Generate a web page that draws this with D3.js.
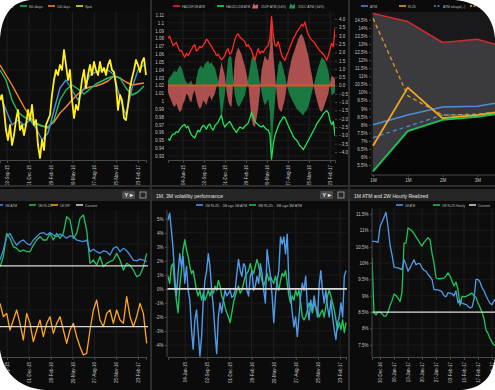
<!DOCTYPE html>
<html>
<head>
<meta charset="utf-8">
<script src="https://cdn.jsdelivr.net/npm/d3@7"></script>
<style>
  body { margin: 0; background: #fff; }
  svg { display: block; font-family: "Liberation Sans", Arial, sans-serif; }
</style>
</head>
<body>
<svg id="dash" width="495" height="390"></svg>
<script>
var parse = d3.timeParse("%d-%b-%y");
var fmt = d3.timeFormat("%d-%b-%y");

// ---------------- data ----------------
var qTicks = ["04-Jun-15","02-Sep-15","01-Dec-15","29-Feb-16","29-May-16","27-Aug-16","25-Nov-16","23-Feb-17"];

// panel 1 : spot and moving averages
var p1Range = ["04-Aug-15", "28-Mar-17"];
var p1Spot = [70,75,60,40,30,45,25,35,50,60,40,45,35,45,60,50,65,45,50,25,12,30,20,45,50,55,75,90,100,95,105,100,120,105,90,100,70,52,65,60,75,90,100,82,95,105,95,108,100,95,108,98,102,95,105,110,100,98,85,60,75,70,52,50,65,82,92,100,110,105,98,108,112,95];
var p1Ma30 = [75,60,45,50,45,50,42,30,37,60,82,90,80,70,82,95,98,100,100,95,72,55,82,100,105];
var p1Ma60 = [100,90,70,58,53,50,47,44,42,50,70,80,85,81,76,81,86,89,92,94,92,82,75,78,84];
var p1Ma100 = [105,95,85,74,63,53,46,44,43,48,57,63,70,76,81,83,84,86,89,94,92,88,85,86,87];

// panel 2 : skew ratios and 1d changes
var p2Range = ["01-Apr-15", "16-Mar-17"];
var p2RatioDF = [1.080,1.083,1.077,1.071,1.073,1.075,1.069,1.064,1.065,1.060,
  1.056,1.061,1.058,1.062,1.066,1.070,1.072,1.064,1.066,1.070,
  1.068,1.071,1.074,1.079,1.077,1.073,1.070,1.066,1.063,1.058,
  1.060,1.056,1.053,1.055,1.058,1.064,1.067,1.060,1.062,1.070,
  1.078,1.084,1.086,1.082,1.080,1.078,1.076,1.070,1.072,1.068,
  1.065,1.058,1.052,1.060,1.067,1.061,1.064,1.062,1.066,1.069,
  1.071,1.080,1.108,1.085,1.072,1.070,1.076,1.068,1.059,1.055,
  1.052,1.058,1.063,1.069,1.074,1.080,1.083,1.088,1.091,1.094,
  1.098,1.096,1.101,1.092,1.085,1.081,1.078,1.076,1.074,1.070,
  1.067,1.064,1.062,1.060,1.057,1.052,1.058,1.066,1.074,1.070,1.093];
var p2RatioDC = [0.952,0.950,0.955,0.958,0.958,0.961,0.960,0.964,0.967,0.969,
  0.970,0.966,0.968,0.962,0.957,0.955,0.953,0.958,0.963,0.961,
  0.966,0.969,0.968,0.964,0.969,0.971,0.966,0.963,0.968,0.971,
  0.973,0.978,0.982,0.972,0.967,0.970,0.972,0.974,0.970,0.966,
  0.963,0.960,0.964,0.967,0.966,0.965,0.968,0.970,0.972,0.978,
  0.986,0.980,0.974,0.972,0.970,0.968,0.967,0.969,0.966,0.964,
  0.963,0.958,0.926,0.945,0.956,0.962,0.968,0.973,0.976,0.980,
  0.979,0.974,0.969,0.964,0.960,0.955,0.952,0.950,0.947,0.943,
  0.941,0.938,0.942,0.946,0.950,0.954,0.958,0.962,0.966,0.971,
  0.974,0.977,0.980,0.984,0.986,0.988,0.985,0.976,0.970,0.974,0.956];
var p2ChgDF = [-0.4,-0.7,-0.9,-1.2,-1.3,-1.1,-1.4,-1.6,-1.5,-1.1,
  -0.9,-0.5,-0.6,-0.9,-1.0,-0.5,-0.3,-0.8,-1.2,-1.4,
  -1.3,-0.9,-1.0,-1.2,-0.8,-0.6,-0.9,-0.7,-0.5,-0.1,
  0.2,0.8,1.4,1.0,0.6,-0.3,-0.9,-1.2,-1.3,0.1,
  1.5,2.0,2.3,2.1,1.9,1.5,1.2,0.7,0.2,-1.0,
  -2.0,-2.4,-2.5,-2.0,-1.4,-0.4,0.9,1.4,1.8,1.6,
  1.5,2.2,4.2,2.0,0.8,-0.4,-1.3,-1.5,-1.6,-1.2,
  -0.8,-0.1,0.6,1.1,1.6,1.9,2.2,2.5,2.8,3.0,
  3.1,2.9,2.6,2.2,1.8,1.2,0.7,0.1,-0.4,-0.8,
  -1.2,-1.5,-1.6,-1.4,-1.1,-0.8,-0.5,0.1,0.6,0.5,0.4];
var p2ChgDC = [0.3,0.5,0.6,0.8,0.9,0.8,1.0,1.2,1.1,0.8,
  0.4,0.2,0.1,0.2,0.3,0.0,-0.2,0.4,0.9,1.1,
  1.2,1.0,1.3,1.4,1.5,1.3,1.4,1.2,1.1,0.7,
  0.3,-1.0,-2.1,-1.3,-0.5,0.6,1.6,1.8,1.7,0.4,
  -0.6,-1.0,-1.3,-1.2,-1.0,-0.8,-0.6,-0.1,0.4,1.0,
  1.6,1.8,1.7,1.3,0.8,0.2,-0.4,-0.9,-1.2,-1.0,
  -0.8,-1.6,-4.3,-2.2,-1.0,0.3,1.2,1.5,1.4,1.0,
  0.6,0.1,-0.3,-0.6,-0.8,-1.0,-1.2,-1.4,-1.5,-1.6,
  -1.7,-1.8,-1.6,-1.5,-1.3,-0.9,-0.5,-0.1,0.3,0.7,
  1.1,1.4,1.7,1.6,1.5,1.2,0.9,0.2,-0.6,-0.5,-0.4];
var p2LeftTicks = [1.11,1.1,1.09,1.08,1.07,1.06,1.05,1.04,1.03,1.02,1.01,1,0.99,0.98,0.97,0.96,0.95,0.94,0.93];
var p2RightTicks = [4,3.5,3,2.5,2,1.5,1,0.5,0,-0.5,-1,-1.5,-2,-2.5,-3,-3.5,-4];

// panel 3 : term structure
var p3Tenors = ["1W","1M","2M","3M","6M"];
var p3Max = [14.9,14.4,13.1,13.3,12.7];
var p3Min = [5.1,7.6,8.3,8.5,8.8];
var p3Atm = [8.0,8.6,9.1,9.15,9.5];
var p3Rlzd = [6.7,10.3,8.4,8.6,8.9];
var p3AtmWk = [7.2,7.9,8.6,8.6,8.9];
var p3RlzdWk = [14.6,9.8,8.6,8.65,8.9];
var p3Ticks = [14.5,14,13.5,13,12.5,12,11.5,11,10.5,10,9.5,9,8.5,8,7.5,7,6.5,6,5.5];

// panel 4 : 1M ATM, RLZD, VRP
var p4Atm = [11.6,12.8,14.4,14.8,14.0,13.4,13.8,14.0,13.6,13.4,14.0,14.4,14.8,14.9,14.6,14.9,14.6,14.4,14.7,14.5,14.2,14.5,14.4,14.0,13.9,13.8,14.0,12.6,12.9,12.6,12.4,12.7,12.6,12.2,13.0,13.2,12.6,13.0,12.7,12.2,11.6,11.5,11.7,11.6,11.4];
var p4Rlzd = [10.8,12.0,14.8,14.2,13.2,13.0,12.6,12.8,12.6,12.6,13.4,14.0,14.4,14.0,14.0,14.8,14.0,14.8,14.2,14.8,16.8,16.4,14.2,14.8,16.6,17.0,15.2,11.2,11.6,11.0,12.0,10.8,11.2,11.4,11.6,12.4,11.6,10.4,11.2,11.0,10.4,9.6,9.8,10.8,12.4];
var p4Vrp = [3.2,1.6,2.0,0.0,1.2,2.4,0.8,-1.2,2.0,0.8,-1.4,0.0,1.2,-0.8,0.8,1.6,-0.4,0.8,1.6,0.0,-1.6,0.0,0.8,-0.8,-2.0,-3.0,-2.8,0.0,2.4,3.6,1.2,0.4,2.0,2.4,0.8,2.4,1.2,0.8,4.0,1.6,0.4,1.6,3.2,2.0,-1.6];
var p4CurVol = 10.9, p4CurVrp = 0.4;

// panel 5 : volatility performance
var p5Range = ["26-Mar-15", "19-Mar-17"];
var p5Perf1M = [4.9,5.4,4.2,2.9,0.9,-0.5,1.1,2.5,1.6,2.3,0.4,1.6,-0.1,-0.8,-2.9,-4.3,-2.2,-1.5,-3.1,-4.8,-3.4,-0.8,0.6,1.3,2.5,1.6,-0.1,-1.3,-3.1,-4.6,-2.0,-1.0,-1.7,-0.8,-0.1,-0.5,-0.3,-0.1,-0.6,-0.5,-0.1,1.1,2.1,1.3,0.9,1.8,1.6,-0.1,-0.5,0.9,1.3,-0.1,0.2,0.9,0.4,1.8,1.1,-0.1,-1.0,2.8,1.8,0.9,-0.5,-2.4,-0.5,0.6,1.3,3.7,3.2,3.7,2.5,3.9,0.4,-0.5,-1.7,-2.7,-2.0,-3.4,-2.0,-0.5,0.4,-0.1,0.9,-1.3,-2.2,-0.8,-1.5,-0.5,-1.3,-2.0,0.2,1.3,-0.1,-1.0,-0.1,-1.3,-2.0,-0.8,-2.0,-2.9,-3.6,-2.4,-2.0,-1.0,-2.0,0.9,1.3];
var p5Perf3M = [0.9,0.4,1.6,1.8,0.2,-0.8,-1.7,0.2,1.3,2.8,3.5,2.8,2.3,1.6,1.1,1.3,0.6,-0.1,-0.5,-0.1,-0.8,-0.3,-0.8,-0.5,-0.1,-0.5,-0.1,-0.3,0.2,-0.1,0.6,0.2,-0.5,-0.8,-1.3,-1.7,-2.0,-2.4,-1.7,-1.0,-0.5,-0.1,0.2,-0.3,-0.1,0.4,0.9,1.1,1.3,1.8,1.3,1.1,1.6,2.1,1.6,1.1,0.6,0.2,0.6,1.1,0.6,0.9,0.6,0.4,0.9,0.4,-0.1,0.6,1.1,0.9,1.3,0.4,-0.5,-1.0,-0.5,-0.8,-0.1,-0.5,-0.1,-1.0,-2.0,-2.2,-2.0,-1.5,-1.0,-1.3,-1.7,-1.0,-1.3,-1.5,-2.0,-1.7,-1.5,-2.0,-1.3,-0.5,-0.1,-0.5,-1.0,-1.5,-2.2,-2.9,-2.4,-2.9,-2.2,-3.1,-2.4];
var p5Ticks = [5,4,3,2,1,0,-1,-2,-3,-4];

// panel 6 : 1M ATM vs 2W hourly realized
var p6Range = ["26-Dec-16", "26-Feb-17"];
var p6Atm = [10.66,10.66,10.65,10.63,11.1,11.25,11.4,11.55,11.12,10.55,10.25,9.88,9.86,9.85,9.83,9.8,10.1,9.95,9.75,9.85,9.98,10.1,9.95,9.98,9.98,9.85,9.78,9.75,9.65,9.58,9.5,9.19,9.19,9.18,9.16,9.12,9.0,8.97,9.09,9.08,9.06,8.99,9.15,8.78,8.88,8.77,8.75,8.73,8.68,8.63,8.65,8.9,9.5,9.5,9.42,9.25,9.15,9.0,8.88,8.77,8.73,8.85,8.93];
var p6Rlzd = [10.15,8.47,8.42,8.5,8.5,8.45,8.38,8.38,8.5,8.7,8.85,9.05,9.0,8.93,8.82,9.1,10.61,10.61,11.07,11.03,10.98,10.9,10.8,10.71,10.6,10.52,10.63,10.7,10.77,10.72,10.3,10.0,9.55,9.52,9.52,9.53,9.54,9.6,9.7,9.6,9.45,9.3,9.42,9.19,8.7,8.98,8.97,8.98,9.01,9.05,9.08,9.0,8.95,8.78,8.65,8.5,8.3,7.95,7.85,7.7,7.58,7.5,7.45];
var p6Current = 8.5;
var p6Ticks = [11.5,11,10.5,10,9.5,9,8.5,8,7.5];
var p6DateTicks = ["30-Dec-16","06-Jan-17","13-Jan-17","20-Jan-17","27-Jan-17","03-Feb-17","10-Feb-17","17-Feb-17","24-Feb-17"];

// ---------------- helpers ----------------
var svg = d3.select("#dash");
svg.append("rect").attr("width", 495).attr("height", 390).attr("fill", "#0b0b0b");

function evenDates(a, b, n) {
  var s = +a, e = +b;
  return d3.range(n).map(function(i) { return new Date(s + i * (e - s) / (n - 1)); });
}

function plotArea(id, x, y, w, h, fill) {
  svg.append("rect").attr("x", x).attr("y", y).attr("width", w).attr("height", h).attr("fill", fill);
  svg.append("clipPath").attr("id", id).append("rect")
    .attr("x", x).attr("y", y).attr("width", w).attr("height", h);
  return svg.append("g").attr("clip-path", "url(#" + id + ")");
}

function drawLine(g, xs, vals, x, y, color, w, dash) {
  g.append("path")
    .datum(vals)
    .attr("d", d3.line().x(function(d, i) { return x(xs[i]); }).y(function(d) { return y(d); }))
    .attr("fill", "none")
    .attr("stroke", color)
    .attr("stroke-width", w)
    .attr("stroke-linejoin", "round")
    .attr("stroke-dasharray", dash || null);
}

function hRule(g, x0, x1, yv, color, w) {
  g.append("line").attr("x1", x0).attr("x2", x1).attr("y1", yv).attr("y2", yv)
    .attr("stroke", color).attr("stroke-width", w);
}

function styleAxis(g) {
  g.attr("font-size", 4.5).attr("font-family", null);
  g.select(".domain").attr("stroke", "#4a4a4a");
  g.selectAll(".tick line").attr("stroke", "#4a4a4a");
  g.selectAll(".tick text").attr("fill", "#c4c4c4");
}

function grid(g, xs, ys, top, bottom, left, right) {
  xs.forEach(function(v) { g.append("line").attr("x1", v).attr("x2", v).attr("y1", top).attr("y2", bottom).attr("stroke", "#1f1f1f"); });
  ys.forEach(function(v) { g.append("line").attr("x1", left).attr("x2", right).attr("y1", v).attr("y2", v).attr("stroke", "#1b1b1b"); });
}

function dateAxis(x, ticks, yAxis) {
  var g = svg.append("g").attr("transform", "translate(0," + yAxis + ")")
    .call(d3.axisBottom(x).tickValues(ticks).tickFormat(fmt).tickSize(3));
  g.selectAll(".tick text")
    .attr("transform", "rotate(-90)")
    .attr("text-anchor", "end")
    .attr("x", -5).attr("y", 0).attr("dy", "0.35em");
  styleAxis(g);
}

function legend(items, y) {
  items.forEach(function(it) {
    if (it.kind == "area") {
      svg.append("path")
        .attr("d", "M" + it.x + "," + (y + 2.5) + "l1.5,-5l2,2l2.5,-1.5v4.5z")
        .attr("fill", it.color);
    } else {
      svg.append("line").attr("x1", it.x).attr("x2", it.x + 7).attr("y1", y).attr("y2", y)
        .attr("stroke", it.color).attr("stroke-width", 1.5).attr("stroke-dasharray", it.dash || null);
    }
    if (it.label) {
      svg.append("text").attr("x", it.x + 9).attr("y", y + 1.5).text(it.label)
        .attr("fill", "#bdbdbd").style("font-size", "4.3px")
        .attr("textLength", it.w).attr("lengthAdjust", "spacingAndGlyphs");
    }
  });
}

function titleBar(x, w, title, tw, icons) {
  svg.append("rect").attr("x", x).attr("y", 189).attr("width", w).attr("height", 12).attr("fill", "#262626");
  if (title) svg.append("text").attr("x", x + 4).attr("y", 197.5).text(title).attr("fill", "#e2e2e2")
    .style("font-size", "5.4px").attr("textLength", tw).attr("lengthAdjust", "spacingAndGlyphs");
  if (icons) {
    svg.append("rect").attr("x", x + w - 28).attr("y", 191).attr("width", 13).attr("height", 8).attr("rx", 1.5).attr("fill", "#4a4a4a");
    svg.append("text").attr("x", x + w - 25.5).attr("y", 197.3).text("Y ▸").attr("fill", "#eee").style("font-size", "5.5px").style("font-weight", "bold");
    svg.append("rect").attr("x", x + w - 10).attr("y", 192).attr("width", 6).attr("height", 6).attr("fill", "none").attr("stroke", "#aaa").attr("stroke-width", 0.8);
  }
}

// ---------------- panel 1 ----------------
var x1 = d3.scaleTime().domain(p1Range.map(parse)).range([0, 146]);
var y1 = d3.scaleLinear().domain([0, 160]).range([170, 10]);
var ticks1 = qTicks.map(parse).filter(function(d) { return x1(d) > 0; });
var g1 = plotArea("c1", 0, 12, 147, 148, "#0d0d0d");
grid(g1, ticks1.map(x1), d3.range(20, 160, 20).map(y1), 12, 160, 0, 147);
var ma1Dates = evenDates(x1.domain()[0], x1.invert(144), p1Ma30.length);
drawLine(g1, ma1Dates, p1Ma100, x1, y1, "#ff8a1c", 1.4);
drawLine(g1, ma1Dates, p1Ma60, x1, y1, "#1fbf6a", 1.4);
drawLine(g1, ma1Dates, p1Ma30, x1, y1, "#4a8fdc", 1.4);
drawLine(g1, evenDates(x1.domain()[0], x1.domain()[1], p1Spot.length), p1Spot, x1, y1, "#fff01a", 1.8);
dateAxis(x1, ticks1, 160);
legend([
  { x: -9, label: "30 days", w: 13, color: "#4a8fdc" },
  { x: 20, label: "60 days", w: 14, color: "#1fbf6a" },
  { x: 48, label: "100 days", w: 13, color: "#ff8a1c" },
  { x: 76, label: "Spot", w: 7, color: "#fff01a" }
], 6);

// ---------------- panel 2 ----------------
var x2 = d3.scaleTime().domain(p2Range.map(parse)).range([168, 335]);
var y2L = d3.scaleLinear().domain([0.9249, 1.1151]).range([160, 11]);
var y2R = d3.scaleLinear().domain([-4.48, 4.48]).range([160, 11]);
var dates2 = evenDates(x2.domain()[0], x2.domain()[1], p2RatioDF.length);
var ticks2 = qTicks.map(parse);
var g2 = plotArea("c2", 168, 11, 167, 149, "#0d0d0d");
grid(g2, ticks2.map(x2), p2LeftTicks.map(y2L), 11, 160, 168, 335);
function chgArea(vals, fill) {
  g2.append("path").datum(vals)
    .attr("d", d3.area().x(function(d, i) { return x2(dates2[i]); }).y0(y2R(0)).y1(function(d) { return y2R(d); }))
    .attr("fill", fill);
}
chgArea(p2ChgDF, "rgba(200,92,92,0.85)");
chgArea(p2ChgDC, "rgba(28,140,76,0.85)");
hRule(g2, 168, 335, y2R(0), "#d8582e", 2);
drawLine(g2, dates2, p2RatioDF, x2, y2L, "#ff2a22", 1.3);
drawLine(g2, dates2, p2RatioDC, x2, y2L, "#22e35a", 1.3);
var a2L = svg.append("g").attr("transform", "translate(168,0)")
  .call(d3.axisLeft(y2L).tickValues(p2LeftTicks).tickSize(0).tickPadding(4).tickFormat(function(d) { return String(+d.toFixed(2)); }));
styleAxis(a2L); a2L.select(".domain").remove();
var a2R = svg.append("g").attr("transform", "translate(335,0)")
  .call(d3.axisRight(y2R).tickValues(p2RightTicks).tickSize(2).tickPadding(2).tickFormat(d3.format(".1f")));
styleAxis(a2R); a2R.select(".domain").remove();
dateAxis(x2, ticks2, 160);
legend([
  { x: 173, label: "FAD2DF/1M ATM", w: 23, color: "#ff2a22" },
  { x: 217, label: "FAD2DC/1M ATM", w: 24, color: "#22e35a" },
  { x: 252, label: "25DF ATM (1d%)", w: 25, color: "#d65f5f", kind: "area" },
  { x: 289, label: "25DC ATM (1d%)", w: 26, color: "#1c9650", kind: "area" }
], 6);

// ---------------- panel 3 ----------------
var x3 = d3.scalePoint().domain(p3Tenors).range([373, 512]);
var y3 = d3.scaleLinear().domain([4.88, 14.93]).range([175, 13]);
var g3 = plotArea("c3", 371, 12, 124, 163, "#19191b");
g3.append("path").datum(p3Max)
  .attr("d", d3.area().x(function(d, i) { return x3(p3Tenors[i]); }).y0(function(d, i) { return y3(p3Min[i]); }).y1(function(d) { return y3(d); }))
  .attr("fill", "#3a3a3f");
g3.append("path").datum(p3Min)
  .attr("d", d3.area().x(function(d, i) { return x3(p3Tenors[i]); }).y0(175).y1(function(d) { return y3(d); }))
  .attr("fill", "#050505");
drawLine(g3, p3Tenors, p3Max, x3, y3, "#d42a30", 1.5);
drawLine(g3, p3Tenors, p3RlzdWk, x3, y3, "#d8922a", 1.4, "4,3");
drawLine(g3, p3Tenors, p3AtmWk, x3, y3, "#4d8fd6", 1.2, "4,3");
drawLine(g3, p3Tenors, p3Atm, x3, y3, "#4d8fd6", 1.5);
drawLine(g3, p3Tenors, p3Rlzd, x3, y3, "#f2a722", 1.8);
drawLine(g3, p3Tenors, p3Min, x3, y3, "#1fbf5a", 2);
var a3 = svg.append("g").attr("transform", "translate(371,0)")
  .call(d3.axisLeft(y3).tickValues(p3Ticks).tickSize(2).tickPadding(1.5).tickFormat(function(d) { return (+d.toFixed(1)) + "%"; }));
styleAxis(a3); a3.select(".domain").remove();
var a3x = svg.append("g").attr("transform", "translate(0,175)")
  .call(d3.axisBottom(x3).tickValues(p3Tenors.slice(0, 4)).tickSize(2).tickPadding(1.5));
styleAxis(a3x); a3x.select(".domain").attr("d", "M371,0H495");
legend([
  { x: 361, label: "ATM", w: 7, color: "#4d8fd6" },
  { x: 399, label: "RLZD", w: 8, color: "#f2a722" },
  { x: 434, label: "ATM wkago(--)", w: 22, color: "#4d8fd6", dash: "2,1.5" },
  { x: 470, color: "#f2a722", dash: "2,1.5" }
], 6);

// ---------------- panel 4 ----------------
var y4a = d3.scaleLinear().domain([9, 17]).range([281.7, 215]);
var y4b = d3.scaleLinear().domain([-3, 4]).range([355, 296.7]);
var dates4 = evenDates(x1.domain()[0], x1.invert(146.7), p4Atm.length);
titleBar(0, 150, null, 0, true);
var g4 = plotArea("c4", 0, 211, 148, 146, "#0d0d0d");
grid(g4, ticks1.map(x1), [222, 244, 266, 288, 310, 332], 211, 357, 0, 148);
drawLine(g4, dates4, p4Rlzd, x1, y4a, "#22c060", 1.3);
drawLine(g4, dates4, p4Atm, x1, y4a, "#4a8fe0", 1.3);
hRule(g4, 0, 148, y4a(p4CurVol), "#d8d8d8", 1.2);
drawLine(g4, dates4, p4Vrp, x1, y4b, "#ffa51f", 1.3);
hRule(g4, 0, 148, y4b(p4CurVrp), "#d8d8d8", 1.2);
dateAxis(x1, ticks1, 357);
legend([
  { x: -4, label: "1M ATM", w: 12, color: "#4a8fe0" },
  { x: 29, label: "1M RLZD", w: 14, color: "#22c060" },
  { x: 51, label: "1M VRP", w: 10, color: "#ffa51f" },
  { x: 76, label: "Current", w: 12, color: "#d8d8d8" }
], 205);

// ---------------- panel 5 ----------------
var x5 = d3.scaleTime().domain(p5Range.map(parse)).range([168, 346]);
var y5 = d3.scaleLinear().domain([-4.85, 5.55]).range([357, 211]);
var dates5 = evenDates(x5.domain()[0], x5.domain()[1], p5Perf1M.length);
titleBar(152, 196, "1M, 3M volatility performance", 67, true);
var g5 = plotArea("c5", 167, 210, 180, 147, "#0d0d0d");
grid(g5, qTicks.map(parse).map(x5), p5Ticks.map(y5), 210, 357, 167, 347);
drawLine(g5, dates5, p5Perf3M, x5, y5, "#1fc45a", 1.4);
drawLine(g5, dates5, p5Perf1M, x5, y5, "#4f9be8", 1.4);
hRule(g5, 167, 347, y5(0), "#dcdcdc", 1.6);
var a5 = svg.append("g").attr("transform", "translate(167,0)")
  .call(d3.axisLeft(y5).tickValues(p5Ticks).tickSize(2).tickPadding(1.5).tickFormat(function(d) { return d + "%"; }));
styleAxis(a5); a5.select(".domain").attr("d", "M0,210V357");
dateAxis(x5, qTicks.map(parse), 357);
legend([
  { x: 196, label: "1M RLZD - 1M ago 1M ATM", w: 42, color: "#4f9be8" },
  { x: 249, label: "3M RLZD - 3M ago 3M ATM", w: 44, color: "#1fc45a" }
], 205);

// ---------------- panel 6 ----------------
var x6 = d3.scaleTime().domain(p6Range.map(parse)).range([372, 496]);
var y6 = d3.scaleLinear().domain([7.13, 11.68]).range([357, 208]);
var dates6 = evenDates(x6.domain()[0], x6.domain()[1], p6Atm.length);
var ticks6 = p6DateTicks.map(parse);
titleBar(350, 145, "1M ATM and 2W Hourly Realized", 74, false);
var g6 = plotArea("c6", 372, 208, 123, 149, "#0d0d0d");
grid(g6, ticks6.map(x6), p6Ticks.map(y6), 208, 357, 372, 495);
drawLine(g6, dates6, p6Rlzd, x6, y6, "#1fc45a", 1.3);
drawLine(g6, dates6, p6Atm, x6, y6, "#4f9be8", 1.3);
hRule(g6, 372, 495, y6(p6Current), "#dcdcdc", 1.2);
var a6 = svg.append("g").attr("transform", "translate(372,0)")
  .call(d3.axisLeft(y6).tickValues(p6Ticks).tickSize(2).tickPadding(1.5).tickFormat(function(d) { return (+d.toFixed(1)) + "%"; }));
styleAxis(a6); a6.select(".domain").attr("d", "M0,208V357");
dateAxis(x6, ticks6, 357);
legend([
  { x: 396, label: "1M ATM", w: 10, color: "#4f9be8" },
  { x: 433, label: "2W RLZD Hourly", w: 23, color: "#1fc45a" },
  { x: 469, label: "Current", w: 12, color: "#dcdcdc" }
], 205);

// ---------------- frame lines and screen corners ----------------
[[151, 0, 151, 390], [349, 0, 349, 390], [0, 186, 495, 186]].forEach(function(l) {
  svg.append("line").attr("x1", l[0]).attr("y1", l[1]).attr("x2", l[2]).attr("y2", l[3])
    .attr("stroke", "#2e2e2e").attr("stroke-width", 2);
});
var corners = [
  "M0,0 L30,0 C12,2 2,14 0,38 Z",
  "M455,0 L495,0 L495,38 C493,14 478,2 455,0 Z",
  "M0,350 C3,372 18,388 45,390 L0,390 Z",
  "M495,358 C492,378 482,388 462,390 L495,390 Z"
];
svg.selectAll("path.corner").data(corners).join("path").attr("class", "corner").attr("d", function(d) { return d; }).attr("fill", "#fff");
</script>
</body>
</html>
